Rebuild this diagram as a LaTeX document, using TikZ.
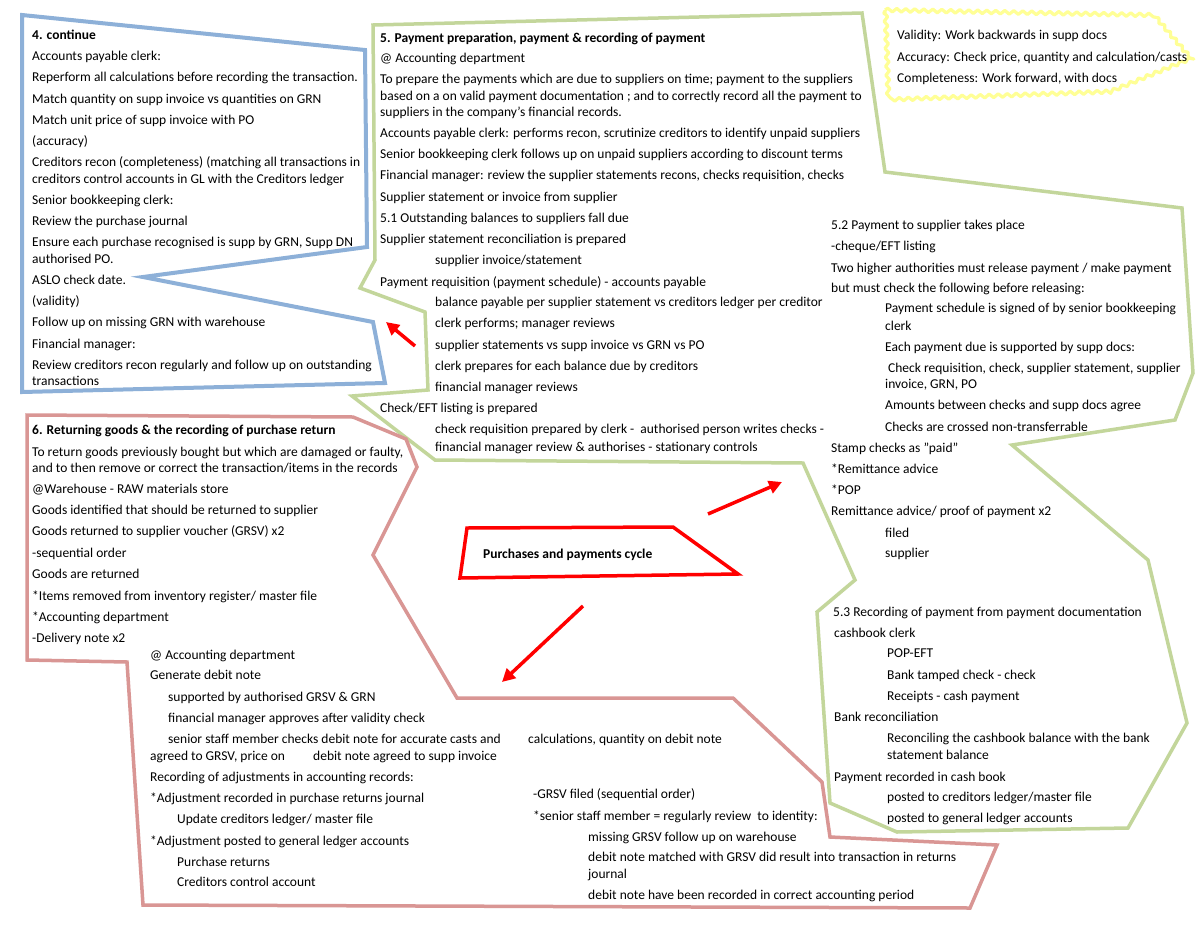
\documentclass[tikz,border=0pt]{standalone}
\usepackage{fontspec}
\setmainfont{Carlito}
\usetikzlibrary{arrows.meta,decorations.pathmorphing}
\definecolor{blueC}{RGB}{141,176,216}
\definecolor{greenC}{RGB}{195,214,155}
\definecolor{redC}{RGB}{217,150,148}
\definecolor{yellowC}{RGB}{255,255,150}
\definecolor{arrowC}{RGB}{255,0,0}
\tikzset{
  txt/.style={anchor=base west, inner sep=0pt, font=\fontsize{13.5}{16}\selectfont},
  btxt/.style={txt, font=\fontsize{13.5}{16}\selectfont\bfseries},
  blueline/.style={draw=blueC, line width=4pt, line join=miter},
  greenline/.style={draw=greenC, line width=3.5pt, line join=miter},
  redline/.style={draw=redC, line width=3.5pt, line join=miter},
  yellowline/.style={draw=yellowC, line width=3.2pt, line join=round, decorate, decoration={snake, segment length=9pt, amplitude=1.8pt}},
  cyclebox/.style={draw=arrowC, line width=3.5pt, line join=miter},
  redarrow/.style={draw=arrowC, line width=3.5pt, -{Triangle[length=13pt,width=13pt]}}
}
\newcommand\TT[4]{\node[txt] (#1) at (#2,#3) {#4};}
\newcommand\TB[4]{\node[btxt] (#1) at (#2,#3) {#4};}
\begin{document}
\begin{tikzpicture}[x=1pt,y=-1pt]
\useasboundingbox[fill=white] (0,0) rectangle (1200,927);

% outlines
\draw[blueline] (22,15) -- (365,50) -- (367,247) -- (143,277) -- (373,322) -- (385,383) -- (22,392) -- cycle;
\draw[greenline] (373,25) -- (862,13) -- (885,172) -- (1182,208) -- (1193,373) -- (1175,420) -- (1012,445) -- (1148,560) -- (1187,723) -- (1128,828) -- (897,832) -- (830,803) -- (817,612) -- (855,580) -- (803,463) -- (435,460) -- (352,396) -- (428,390) -- (425,312) -- (360,288) -- (375,260) -- cycle;
\draw[redline] (27,415) -- (353,417) -- (406,439) -- (417,467) -- (373,555) -- (457,698) -- (733,698) -- (822,782) -- (830,837) -- (997,845) -- (970,908) -- (143,905) -- (127,662) -- (27,660) -- cycle;
\draw[yellowline] (885,10) -- (1150,15) -- (1190,62) -- (1110,95) -- (888,103) -- cycle;

% central box
\draw[cyclebox] (467,528) -- (673,527) -- (738,574) -- (460,578) -- cycle;
\TB{cyc}{483}{558}{Purchases and payments cycle}

% arrows
\coordinate (a1s) at (415,346); \coordinate (a1e) at (386,322);
\coordinate (a2s) at (708,514); \coordinate (a2e) at (782,482);
\coordinate (a3s) at (583,606); \coordinate (a3e) at (502,682);
\draw[redarrow] (a1s) -- (a1e);
\draw[redarrow] (a2s) -- (a2e);
\draw[redarrow] (a3s) -- (a3e);

% blue block
\TB{b1}{32}{39}{4. continue}
\TT{b2}{32}{60}{Accounts payable clerk:}
\TT{b3}{32}{81}{Reperform all calculations before recording the transaction.}
\TT{b4}{32}{103}{Match quantity on supp invoice vs quantities on GRN}
\TT{b5}{32}{124}{Match unit price of supp invoice with PO}
\TT{b6}{32}{145}{(accuracy)}
\TT{b7}{32}{166}{Creditors recon (completeness) (matching all transactions in}
\TT{b8}{32}{183}{creditors control accounts in GL with the Creditors ledger}
\TT{b9}{32}{204}{Senior bookkeeping clerk:}
\TT{b10}{32}{225}{Review the purchase journal}
\TT{b11}{32}{246}{Ensure each purchase recognised is supp by GRN, Supp DN}
\TT{b12}{32}{263}{authorised PO.}
\TT{b13}{32}{284}{ASLO check date.}
\TT{b14}{32}{305}{(validity)}
\TT{b15}{32}{326}{Follow up on missing GRN with warehouse}
\TT{b16}{32}{348}{Financial manager:}
\TT{b17}{32}{369}{Review creditors recon regularly and follow up on outstanding}
\TT{b18}{32}{385}{transactions}

% green block
\TB{g1}{380}{42}{5. Payment preparation, payment \& recording of payment}
\TT{g2}{380}{62}{@ Accounting department}
\TT{g3}{380}{83}{To prepare the payments which are due to suppliers on time; payment to the suppliers}
\TT{g4}{380}{100}{based on a on valid payment documentation ; and to correctly record all the payment to}
\TT{g5}{380}{116}{suppliers in the company's financial records.}
\TT{g6}{380}{137}{Accounts payable clerk: performs recon, scrutinize creditors to identify unpaid suppliers}
\TT{g7}{380}{158}{Senior bookkeeping clerk follows up on unpaid suppliers according to discount terms}
\TT{g8}{380}{179}{Financial manager: review the supplier statements recons, checks requisition, checks}
\TT{g9}{380}{201}{Supplier statement or invoice from supplier}
\TT{g10}{380}{222}{5.1 Outstanding balances to suppliers fall due}
\TT{g11}{380}{243}{Supplier statement reconciliation is prepared}
\TT{g12}{435}{264}{supplier invoice/statement}
\TT{g13}{380}{286}{Payment requisition (payment schedule) - accounts payable}
\TT{g14}{435}{306}{balance payable per supplier statement vs creditors ledger per creditor}
\TT{g15}{435}{327}{clerk performs; manager reviews}
\TT{g16}{435}{349}{supplier statements vs supp invoice vs GRN vs PO}
\TT{g17}{435}{370}{clerk prepares for each balance due by creditors}
\TT{g18}{435}{391}{financial manager reviews}
\TT{g19}{380}{412}{Check/EFT listing is prepared}
\TT{g20}{435}{433}{check requisition prepared by clerk -\ \ authorised person writes checks -}
\TT{g21}{435}{451}{financial manager review \& authorises - stationary controls}

% yellow block
\TT{y1}{897}{39}{Validity: Work backwards in supp docs}
\TT{y2}{897}{61}{Accuracy: Check price, quantity and calculation/casts}
\TT{y3}{897}{82}{Completeness: Work forward, with docs}

% right block
\TT{r1}{831}{229}{5.2 Payment to supplier takes place}
\TT{r2}{831}{250}{-cheque/EFT listing}
\TT{r3}{831}{272}{Two higher authorities must release payment / make payment}
\TT{r4}{831}{292}{but must check the following before releasing:}
\TT{r5}{885}{312}{Payment schedule is signed of by senior bookkeeping}
\TT{r6}{885}{330}{clerk}
\TT{r7}{885}{351}{Each payment due is supported by supp docs:}
\TT{r8}{888}{372}{Check requisition, check, supplier statement, supplier}
\TT{r9}{885}{388}{invoice, GRN, PO}
\TT{r10}{885}{409}{Amounts between checks and supp docs agree}
\TT{r11}{885}{431}{Checks are crossed non-transferrable}
\TT{r12}{831}{452}{Stamp checks as "paid"}
\TT{r13}{831}{473}{*Remittance advice}
\TT{r14}{831}{494}{*POP}
\TT{r15}{831}{515}{Remittance advice/ proof of payment x2}
\TT{r16}{885}{537}{filed}
\TT{r17}{885}{557}{supplier}
\TT{r18}{833}{616}{5.3 Recording of payment from payment documentation}
\TT{r19}{834}{637}{cashbook clerk}
\TT{r20}{887}{657}{POP-EFT}
\TT{r21}{887}{679}{Bank tamped check - check}
\TT{r22}{887}{700}{Receipts - cash payment}
\TT{r23}{834}{721}{Bank reconciliation}
\TT{r24}{887}{742}{Reconciling the cashbook balance with the bank}
\TT{r25}{887}{759}{statement balance}
\TT{r26}{834}{781}{Payment recorded in cash book}
\TT{r27}{887}{801}{posted to creditors ledger/master file}
\TT{r28}{887}{822}{posted to general ledger accounts}

% red block
\TB{p1}{32}{434}{6. Returning goods \& the recording of purchase return}
\TT{p2}{32}{456}{To return goods previously bought but which are damaged or faulty,}
\TT{p3}{32}{472}{and to then remove or correct the transaction/items in the records}
\TT{p4}{32}{493}{@Warehouse - RAW materials store}
\TT{p5}{32}{514}{Goods identified that should be returned to supplier}
\TT{p6}{32}{535}{Goods returned to supplier voucher (GRSV) x2}
\TT{p7}{32}{557}{-sequential order}
\TT{p8}{32}{578}{Goods are returned}
\TT{p9}{32}{600}{*Items removed from inventory register/ master file}
\TT{p10}{32}{621}{*Accounting department}
\TT{p11}{32}{642}{-Delivery note x2}
\TT{p12}{150}{659}{@ Accounting department}
\TT{p13}{150}{679}{Generate debit note}
\TT{p14}{168}{701}{supported by authorised GRSV \& GRN}
\TT{p15}{168}{722}{financial manager approves after validity check}
\TT{p16}{168}{743}{senior staff member checks debit note for accurate casts and}
\TT{p17}{528}{743}{calculations, quantity on debit note}
\TT{p18}{150}{760}{agreed to GRSV, price on}
\TT{p19}{313}{760}{debit note agreed to supp invoice}
\TT{p20}{150}{781}{Recording of adjustments in accounting records:}
\TT{p21}{150}{802}{*Adjustment recorded in purchase returns journal}
\TT{p22}{177}{823}{Update creditors ledger/ master file}
\TT{p23}{150}{845}{*Adjustment posted to general ledger accounts}
\TT{p24}{177}{866}{Purchase returns}
\TT{p25}{177}{886}{Creditors control account}
\TT{p26}{533}{798}{-GRSV filed (sequential order)}
\TT{p27}{533}{820}{*senior staff member = regularly review\ \ to identity:}
\TT{p28}{588}{841}{missing GRSV follow up on warehouse}
\TT{p29}{588}{861}{debit note matched with GRSV did result into transaction in returns}
\TT{p30}{588}{878}{journal}
\TT{p31}{588}{899}{debit note have been recorded in correct accounting period}
\end{tikzpicture}
\end{document}
